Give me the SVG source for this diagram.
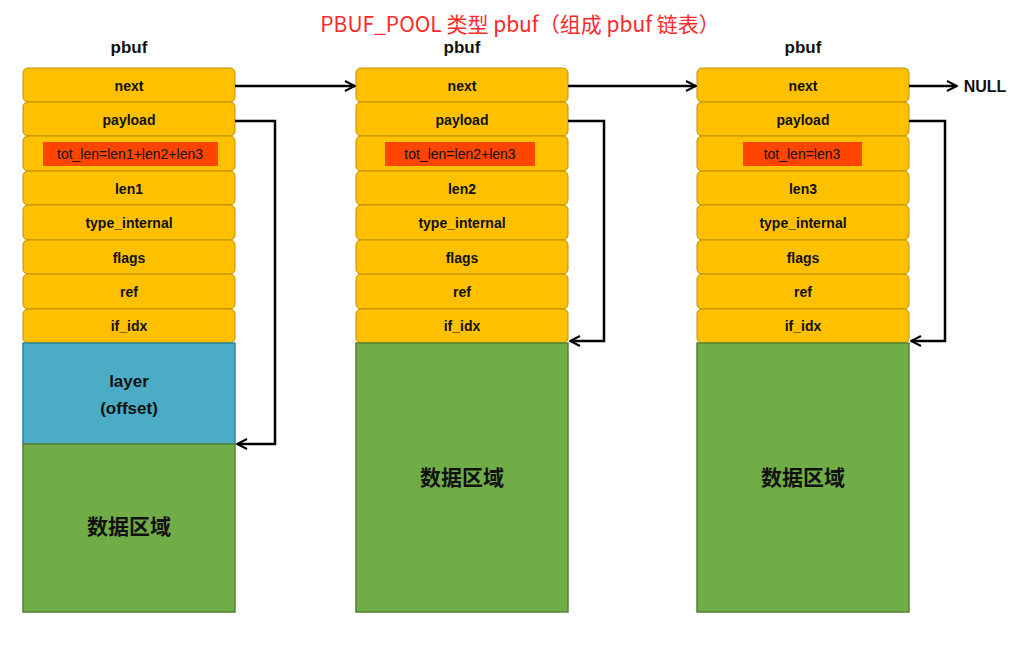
<svg xmlns="http://www.w3.org/2000/svg" width="1019" height="648" viewBox="0 0 1019 648">
<defs>
<style>
.f{fill:#FFC000;stroke:#BF9000;stroke-width:1}
.t{font-family:"Liberation Sans","Noto Sans CJK SC",sans-serif;font-weight:bold;font-size:14px;text-anchor:middle;fill:#111}
.n{font-weight:normal}
.b{font-size:17px}
.z{font-size:21px}
.h{fill:#FF4500}
.g{fill:#70AD47;stroke:#548235;stroke-width:1.5}
.c{fill:none;stroke:#000;stroke-width:2.5}
</style>
<marker id="a" viewBox="0 0 12 12" refX="11" refY="6" markerWidth="12" markerHeight="12" markerUnits="userSpaceOnUse" orient="auto"><path d="M1,1 L11,6 L1,11" fill="none" stroke="#000" stroke-width="2"/></marker>
</defs>
<rect width="1019" height="648" fill="#fff"/>
<text x="520" y="32" font-family="'Noto Sans CJK SC',sans-serif" font-size="21" fill="#FF2A2A" text-anchor="middle">PBUF_POOL 类型 pbuf（组成 pbuf 链表）</text>
<g id="pbuf1">
<text class="t b" x="129" y="53">pbuf</text>
<rect class="f" x="23" y="68" width="212" height="34" rx="5"/><text class="t" x="129" y="91">next</text>
<rect class="f" x="23" y="102" width="212" height="34" rx="5"/><text class="t" x="129" y="125">payload</text>
<rect class="f" x="23" y="136" width="212" height="35" rx="5"/><rect class="h" x="43" y="142" width="175" height="24"/><text class="t n" x="130" y="159">tot_len=len1+len2+len3</text>
<rect class="f" x="23" y="171" width="212" height="34" rx="5"/><text class="t" x="129" y="194">len1</text>
<rect class="f" x="23" y="205" width="212" height="35" rx="5"/><text class="t" x="129" y="228">type_internal</text>
<rect class="f" x="23" y="240" width="212" height="34" rx="5"/><text class="t" x="129" y="263">flags</text>
<rect class="f" x="23" y="274" width="212" height="35" rx="5"/><text class="t" x="129" y="297">ref</text>
<rect class="f" x="23" y="309" width="212" height="34" rx="5"/><text class="t" x="129" y="331">if_idx</text>
<rect x="23" y="343" width="212" height="101" fill="#4BACC6" stroke="#31849B" stroke-width="1.5"/>
<text class="t b" x="129" y="387">layer</text><text class="t b" x="129" y="414">(offset)</text>
<rect class="g" x="23" y="444" width="212" height="168"/>
<text class="t z" x="129" y="534">数据区域</text>
</g>
<g id="pbuf2">
<text class="t b" x="462" y="53">pbuf</text>
<rect class="f" x="356" y="68" width="212" height="34" rx="5"/><text class="t" x="462" y="91">next</text>
<rect class="f" x="356" y="102" width="212" height="34" rx="5"/><text class="t" x="462" y="125">payload</text>
<rect class="f" x="356" y="136" width="212" height="35" rx="5"/><rect class="h" x="385" y="142" width="150" height="24"/><text class="t n" x="460" y="159">tot_len=len2+len3</text>
<rect class="f" x="356" y="171" width="212" height="34" rx="5"/><text class="t" x="462" y="194">len2</text>
<rect class="f" x="356" y="205" width="212" height="35" rx="5"/><text class="t" x="462" y="228">type_internal</text>
<rect class="f" x="356" y="240" width="212" height="34" rx="5"/><text class="t" x="462" y="263">flags</text>
<rect class="f" x="356" y="274" width="212" height="35" rx="5"/><text class="t" x="462" y="297">ref</text>
<rect class="f" x="356" y="309" width="212" height="34" rx="5"/><text class="t" x="462" y="331">if_idx</text>
<rect class="g" x="356" y="343" width="212" height="269"/>
<text class="t z" x="462" y="485">数据区域</text>
</g>
<g id="pbuf3">
<text class="t b" x="803" y="53">pbuf</text>
<rect class="f" x="697" y="68" width="212" height="34" rx="5"/><text class="t" x="803" y="91">next</text>
<rect class="f" x="697" y="102" width="212" height="34" rx="5"/><text class="t" x="803" y="125">payload</text>
<rect class="f" x="697" y="136" width="212" height="35" rx="5"/><rect class="h" x="743" y="142" width="119" height="24"/><text class="t n" x="802" y="159">tot_len=len3</text>
<rect class="f" x="697" y="171" width="212" height="34" rx="5"/><text class="t" x="803" y="194">len3</text>
<rect class="f" x="697" y="205" width="212" height="35" rx="5"/><text class="t" x="803" y="228">type_internal</text>
<rect class="f" x="697" y="240" width="212" height="34" rx="5"/><text class="t" x="803" y="263">flags</text>
<rect class="f" x="697" y="274" width="212" height="35" rx="5"/><text class="t" x="803" y="297">ref</text>
<rect class="f" x="697" y="309" width="212" height="34" rx="5"/><text class="t" x="803" y="331">if_idx</text>
<rect class="g" x="697" y="343" width="212" height="269"/>
<text class="t z" x="803" y="485">数据区域</text>
</g>
<g id="null"><text class="t" x="985" y="92" style="font-size:16px">NULL</text></g>
<g id="connectors">
<path class="c" d="M235,86 H355" marker-end="url(#a)"/>
<path class="c" d="M568,86 H696" marker-end="url(#a)"/>
<path class="c" d="M909,86 H957" marker-end="url(#a)"/>
<path class="c" d="M235,121 H275 V444 H237" marker-end="url(#a)"/>
<path class="c" d="M568,121 H604 V341 H570" marker-end="url(#a)"/>
<path class="c" d="M909,121 H945 V341 H911" marker-end="url(#a)"/>
</g>
</svg>
